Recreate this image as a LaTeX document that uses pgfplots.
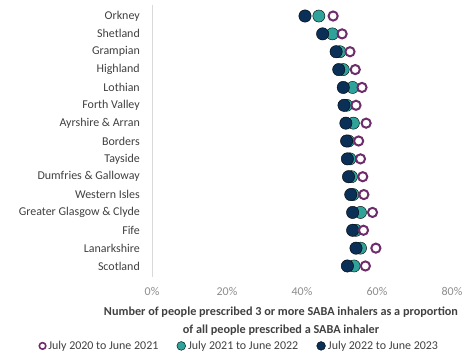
\documentclass[border=0pt]{standalone}
\usepackage{fontspec}
\setmainfont{Carlito}
\usepackage{pgfplots}
\pgfplotsset{compat=1.18}
\definecolor{navy}{HTML}{0B3058}
\definecolor{teal2}{HTML}{2FA39A}
\definecolor{plum}{HTML}{6E2C6B}
\definecolor{txt}{HTML}{404040}
\definecolor{tick}{HTML}{8C8C8C}
\pgfplotstableread{
y  a    b    c
0  48.3 44.5 40.8
1  50.7 48.1 45.5
2  52.8 50.1 49.1
3  54.2 51.0 49.8
4  56.0 53.5 51.0
5  54.4 51.9 51.2
6  57.1 53.7 51.7
7  55.1 52.4 51.9
8  55.6 52.8 52.1
9  56.2 53.2 52.4
10 56.5 53.6 53.0
11 58.8 55.6 53.5
12 56.4 54.4 53.5
13 59.7 55.6 54.4
14 56.9 53.9 52.1
}\data
\begin{document}
\begin{tikzpicture}
\path[use as bounding box] (-152bp,-79.3bp) rectangle (322bp,276.7bp);
\begin{axis}[
  at={(0bp,0bp)}, anchor=south west,
  scale only axis, width=300bp, height=271.4bp,
  xmin=0, xmax=80, ymin=-0.6, ymax=14.6, y dir=reverse,
  axis lines=left, axis line style={-},
  x axis line style={draw=none},
  y axis line style={draw=black!15, line width=0.8pt},
  major tick length=0pt, tick style={draw=none},
  xtick={0,20,40,60,80},
  xticklabel={\pgfmathprintnumber[assume math mode=true]{\tick}\%},
  xticklabel style={font=\fontsize{12}{14}\selectfont, text=tick, inner sep=0pt, yshift=-10bp},
  ytick={0,...,14},
  yticklabels={Orkney,Shetland,Grampian,Highland,Lothian,Forth Valley,Ayrshire \& Arran,Borders,Tayside,Dumfries \& Galloway,Western Isles,Greater Glasgow \& Clyde,Fife,Lanarkshire,Scotland},
  yticklabel style={font=\fontsize{12}{14}\selectfont, text=txt, inner sep=0pt, xshift=-12bp},
  xlabel={Number of people prescribed 3 or more SABA inhalers as a proportion\\of all people prescribed a SABA inhaler},
  xlabel style={align=center, font=\bfseries\fontsize{12.25}{18}\selectfont, text=txt, xshift=-21bp, yshift=-8bp},
  legend columns=3,
  legend style={draw=none, fill=none, at={(0.293,-0.255)}, anchor=center,
    font=\fontsize{12}{14}\selectfont, text=txt,
    nodes={inner sep=2.5bp},
    /tikz/every even column/.append style={column sep=16bp}},
  clip=false,
]
\addlegendimage{only marks, mark=*, draw=plum, fill=white,
  legend image code/.code={\draw[mark size=3.3pt, line width=1.6pt] plot coordinates {(0bp,0bp)};}}
\addlegendentry{July 2020 to June 2021}
\addlegendimage{only marks, mark=*, draw=none, fill=teal2,
  legend image code/.code={\draw[mark size=4.4pt] plot coordinates {(0bp,0bp)};}}
\addlegendentry{July 2021 to June 2022}
\addlegendimage{only marks, mark=*, draw=none, fill=navy,
  legend image code/.code={\draw[mark size=4.4pt] plot coordinates {(0bp,0bp)};}}
\addlegendentry{July 2022 to June 2023}
\addplot[forget plot, only marks, mark=*, mark size=6.1pt, draw=none, fill=teal2] table[x=b,y=y]{\data};
\addplot[forget plot, only marks, mark=*, mark size=6.2pt, draw=none, fill=navy] table[x=c,y=y]{\data};
\addplot[forget plot, only marks, mark=*, mark size=4.6pt, draw=plum, fill=white, line width=2pt] table[x=a,y=y]{\data};
\end{axis}
\end{tikzpicture}
\end{document}
